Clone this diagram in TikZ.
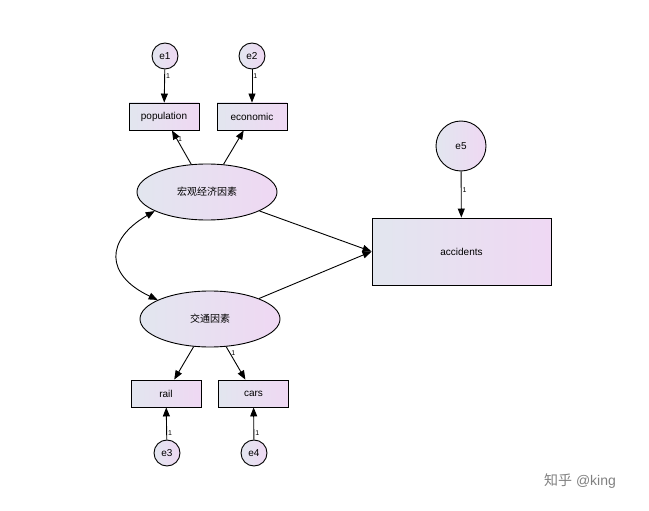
\documentclass[tikz,border=0pt]{standalone}
\usepackage{fontspec}
\setmainfont{Liberation Sans}
\newfontfamily\cjk{Noto Sans CJK SC}
\usetikzlibrary{shapes.geometric,arrows.meta}
\definecolor{fa}{HTML}{E2E6EF}
\definecolor{fb}{HTML}{EFD8F3}
\begin{document}
\begin{tikzpicture}[x=1pt,y=-1pt,
  base/.style={draw=black,line width=0.9pt,left color=fa,right color=fb,inner sep=0pt,font=\fontsize{10}{12}\selectfont},
  box/.style={base,rectangle,minimum width=70pt,minimum height=27pt},
  err/.style={base,circle,minimum size=26pt},
  lat/.style={base,ellipse,minimum width=140pt,minimum height=56pt},
  arr/.style={-{Triangle[length=9pt,width=7pt]},line width=0.9pt},
  one/.style={font=\fontsize{7}{8}\selectfont,inner sep=1pt}]
\useasboundingbox (0,0) rectangle (649,511);
\node[err] (e1) at (165,56) {e1};
\node[err] (e2) at (252,56) {e2};
\node[box] (pop) at (164,116.5) {population};
\node[box] (eco) at (252,116.5) {economic};
\node[lat] (m) at (207,192) {\cjk 宏观经济因素};
\node[lat] (t) at (210,319) {\cjk 交通因素};
\node[box,minimum width=179pt,minimum height=67pt] (acc) at (461.5,251.5) {accidents};
\node[err,minimum size=50pt] (e5) at (461,146) {e5};
\node[box] (rail) at (166,393.5) {rail};
\node[box] (cars) at (253.5,393.5) {cars};
\node[err] (e3) at (167,453) {e3};
\node[err] (e4) at (254,453) {e4};
\draw[arr] (e1) -- node[one,pos=0.2,right]{1} (pop);
\draw[arr] (e2) -- node[one,pos=0.2,right]{1} (eco);
\draw[arr] (m) -- node[one,pos=0.75,right]{1} (pop);
\draw[arr] (m) -- (eco);
\draw[arr] (e5) -- node[one,pos=0.4,right]{1} (acc);
\draw[arr] (m) -- (acc.west);
\draw[arr] (t) -- (acc.west);
\draw[arr] (t) -- (rail);
\draw[arr] (t) -- node[one,pos=0.2,right]{1} (cars);
\draw[arr] (e3) -- node[one,pos=0.2,right]{1} (rail);
\draw[arr] (e4) -- node[one,pos=0.2,right]{1} (cars);
\draw[{Triangle[length=9pt,width=7pt]}-{Triangle[length=9pt,width=7pt]},line width=0.9pt]
  (m.200) .. controls (105,240) and (105,275) .. (t.160);
\node[text=gray,font=\fontsize{14}{16}\selectfont] (wm) at (580,481) {{\cjk 知乎} @king};
\end{tikzpicture}
\end{document}
